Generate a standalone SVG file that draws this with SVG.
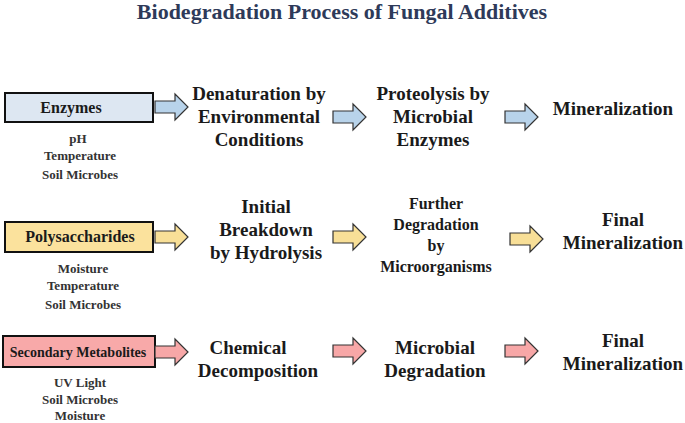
<svg xmlns="http://www.w3.org/2000/svg" width="685" height="423" viewBox="0 0 685 423">
<style>
text{font-family:'Liberation Serif','Times New Roman','DejaVu Serif',serif;font-weight:bold;text-anchor:middle;fill:#1a1a1a}
.t{font-size:22px;fill:#2e3a59}
.s{font-size:19px}
.m{font-size:16px}
.f{font-size:13px;fill:#333}
.b{stroke:#111;stroke-width:2}
.a{stroke:#333;stroke-width:1.2}
.blue{fill:#dde7f2}.ba{fill:#b8d3ea}
.yel{fill:#fbe29d}.ya{fill:#f8df97}
.pink{fill:#f8a9a9}.pa{fill:#f7a7a7}
</style>
<defs>
<path id="arr" d="M0,-6 H20 V-13 L33,0 L20,13 V6 H0 Z"/>
</defs>
<text class="t" x="342" y="19">Biodegradation Process of Fungal Additives</text>
<g id="enzymes"><rect class="b blue" x="5" y="93" width="148" height="29"/><text class="m" x="71" y="113">Enzymes</text>
<text class="f" x="78" y="143">pH</text><text class="f" x="80" y="160">Temperature</text><text class="f" x="80" y="179">Soil Microbes</text></g>
<g id="denat"><text class="s" x="259" y="100">Denaturation by</text><text class="s" x="259" y="123">Environmental</text><text class="s" x="259" y="146">Conditions</text></g>
<g id="proteo"><text class="s" x="433" y="100">Proteolysis by</text><text class="s" x="433" y="123">Microbial</text><text class="s" x="433" y="146">Enzymes</text></g>
<g id="mineral1"><text class="s" x="613" y="115">Mineralization</text></g>
<g id="poly"><rect class="b yel" x="5" y="222" width="148" height="30"/><text class="m" x="80" y="242">Polysaccharides</text>
<text class="f" x="83" y="273">Moisture</text><text class="f" x="83" y="290">Temperature</text><text class="f" x="83" y="309">Soil Microbes</text></g>
<g id="initial"><text class="s" x="266" y="213">Initial</text><text class="s" x="266" y="236">Breakdown</text><text class="s" x="266" y="259">by Hydrolysis</text></g>
<g id="further"><text class="m" x="436" y="209">Further</text><text class="m" x="436" y="230">Degradation</text><text class="m" x="436" y="251">by</text><text class="m" x="436" y="272">Microorganisms</text></g>
<g id="final1"><text class="s" x="623" y="226">Final</text><text class="s" x="623" y="249">Mineralization</text></g>
<g id="secondary"><rect class="b pink" x="3" y="336" width="152" height="31"/><text class="m" x="78" y="357" style="font-size:14px">Secondary Metabolites</text>
<text class="f" x="80" y="387">UV Light</text><text class="f" x="80" y="404">Soil Microbes</text><text class="f" x="80" y="420">Moisture</text></g>
<g id="chem"><text class="s" x="248" y="354">Chemical</text><text class="s" x="258" y="377">Decomposition</text></g>
<g id="micro"><text class="s" x="435" y="354">Microbial</text><text class="s" x="435" y="377">Degradation</text></g>
<g id="final2"><text class="s" x="623" y="347">Final</text><text class="s" x="623" y="370">Mineralization</text></g>
<g id="connectors">
<use href="#arr" class="a ba" x="155" y="107"/>
<use href="#arr" class="a ba" x="333" y="117"/>
<use href="#arr" class="a ba" x="505" y="117"/>
<use href="#arr" class="a ya" x="155" y="237"/>
<use href="#arr" class="a ya" x="333" y="237"/>
<use href="#arr" class="a ya" x="510" y="239"/>
<use href="#arr" class="a pa" x="155" y="352"/>
<use href="#arr" class="a pa" x="333" y="351"/>
<use href="#arr" class="a pa" x="505" y="351"/>
</g>
</svg>
